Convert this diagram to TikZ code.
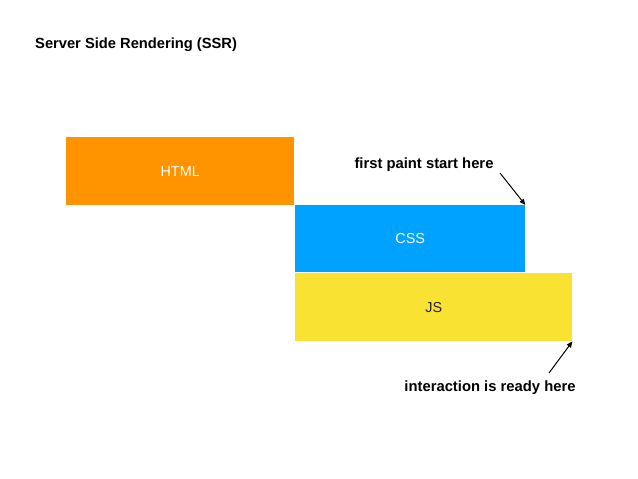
\documentclass[tikz,border=0pt]{standalone}
\usepackage{fontspec}
\setmainfont{Liberation Sans}
\usetikzlibrary{arrows.meta}
\definecolor{htmlc}{HTML}{FF9300}
\definecolor{cssc}{HTML}{00A2FF}
\definecolor{jsc}{HTML}{FAE232}
\begin{document}
\begin{tikzpicture}[x=1pt,y=-1pt,
  bar/.style={draw=none,inner sep=0pt,anchor=north west,font=\fontsize{14.4}{16}\selectfont},
  lbl/.style={font=\bfseries\fontsize{14.8}{17}\selectfont,inner sep=0pt},
  pointer/.style={-{Triangle[length=6pt,width=5pt]},line width=1pt,black}]
\useasboundingbox (0,0) rectangle (638,479);
\node[anchor=base west,font=\bfseries\fontsize{14.7}{17}\selectfont,inner sep=0pt] (title) at (35,48) {Server Side Rendering (SSR)};
\node[bar,fill=htmlc,minimum width=228pt,minimum height=68pt,text=white] (html) at (66,137) {HTML};
\node[bar,fill=cssc,minimum width=230pt,minimum height=67pt,text=white] (css) at (295,205) {CSS};
\node[bar,fill=jsc,minimum width=277pt,minimum height=68pt,text=black!85] (js) at (295,273) {JS};
\node[lbl] (fp) at (424,164.5) {first paint start here};
\node[lbl] (ir) at (490,388) {interaction is ready here};
\coordinate (a1s) at (500,173);
\coordinate (a2s) at (549,373);
\draw[pointer] (a1s) -- (css.north east);
\draw[pointer] (a2s) -- (js.south east);
\end{tikzpicture}
\end{document}
